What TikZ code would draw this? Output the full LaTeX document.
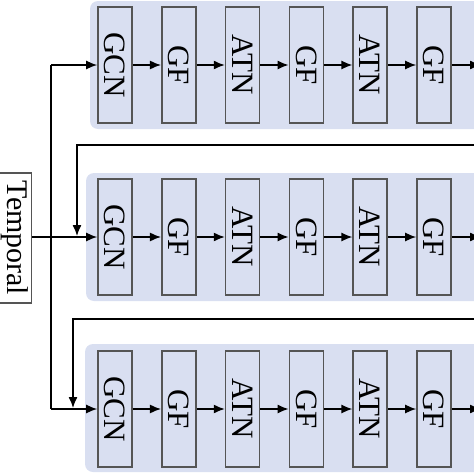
\documentclass[tikz,border=0pt]{standalone}
\usepackage{fontspec}
\setmainfont{Liberation Serif}
\usetikzlibrary{arrows.meta}
\definecolor{panelblue}{HTML}{D9DFF1}
\definecolor{boxgray}{HTML}{555555}
\tikzset{
    block/.style={draw=boxgray, line width=1.7pt, fill=panelblue, minimum width=34pt,
        minimum height=116pt, inner sep=0pt, font=\fontsize{31}{32}\selectfont},
    panel/.style={fill=panelblue, rounded corners=8pt},
    arr/.style={-{Latex[length=11pt,width=9pt]}, line width=1.3pt},
    link/.style={line width=1.3pt}
}
\begin{document}
\begin{tikzpicture}[x=1pt,y=-1pt]
    \useasboundingbox (0,0) rectangle (474,474);
    \clip (0,0) rectangle (474,474);
    % panels
    \fill[panel] (90,1) rectangle (495,129);
    \fill[panel] (86,173) rectangle (495,301);
    \fill[panel] (85,344) rectangle (495,472);
    % the three rows
    \foreach \r/\y in {1/65,2/237,3/409}{
        \node[block] (gcn\r) at (115,\y) {\rotatebox{-90}{GCN}};
        \node[block] (gfa\r) at (178.8,\y) {\rotatebox{-90}{GF}};
        \node[block] (atna\r) at (242.6,\y) {\rotatebox{-90}{ATN}};
        \node[block] (gfb\r) at (306.4,\y) {\rotatebox{-90}{GF}};
        \node[block] (atnb\r) at (370.2,\y) {\rotatebox{-90}{ATN}};
        \node[block] (gfc\r) at (434,\y) {\rotatebox{-90}{GF}};
        \coordinate (out\r) at (481,\y);
        \draw[arr] (gcn\r) -- (gfa\r);
        \draw[arr] (gfa\r) -- (atna\r);
        \draw[arr] (atna\r) -- (gfb\r);
        \draw[arr] (gfb\r) -- (atnb\r);
        \draw[arr] (atnb\r) -- (gfc\r);
        \draw[arr] (gfc\r) -- (out\r);
    }
    % input
    \node[draw=boxgray, line width=1.7pt, minimum width=34pt, minimum height=130pt,
        inner sep=0pt, font=\fontsize{30}{31}\selectfont] (temp) at (14.5,238)
        {\rotatebox{-90}{Temporal}};
    \coordinate (bus1) at (51,65);
    \coordinate (bus3) at (51,409);
    \draw[link] (bus1) -- (bus3);
    \draw[arr] (bus1) -- (gcn1.west);
    \draw[arr] (temp.east |- gcn2.west) -- (gcn2.west);
    \draw[arr] (bus3) -- (gcn3.west);
    % feedback lines
    \coordinate (fbin1) at (480,145);
    \coordinate (fbc1) at (77,145);
    \coordinate (fbend1) at (77,236);
    \draw[arr] (fbin1) -- (fbc1) -- (fbend1);
    \coordinate (fbin2) at (480,319);
    \coordinate (fbc2) at (73,319);
    \coordinate (fbend2) at (73,408);
    \draw[arr] (fbin2) -- (fbc2) -- (fbend2);
\end{tikzpicture}
\end{document}
